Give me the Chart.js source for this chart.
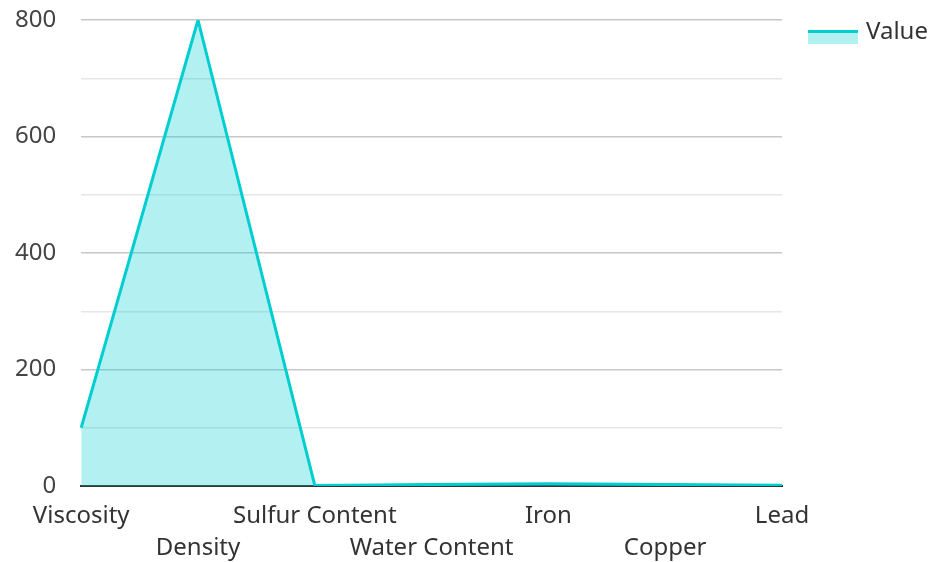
<!DOCTYPE html>
<html>
<head>
<meta charset="utf-8">
<script src="https://cdn.jsdelivr.net/npm/chart.js@4"></script>
<style>
  body { margin: 0; background: #fff; }
  #wrap { width: 932px; height: 562px; }
</style>
</head>
<body>
<div id="wrap"><canvas id="myChart"></canvas></div>
<script>
const categories = ['Viscosity', 'Density', 'Sulfur Content', 'Water Content', 'Iron', 'Copper', 'Lead'];
const values = [100, 800, 1, 2.5, 4, 2.5, 1.5];
const seriesName = 'Value';

const lineColor = '#00CED1';
const fillColor = 'rgba(0, 206, 209, 0.3)';

Chart.defaults.font.family = "'Noto Sans', 'Open Sans', sans-serif";
Chart.defaults.font.size = 24;
Chart.defaults.color = '#444';

// legend drawn by hand: light swatch with a thick line on top, text to the right
const sideLegend = {
  id: 'sideLegend',
  afterDraw(chart) {
    const ctx = chart.ctx;
    const x = chart.chartArea.right + 26;
    const y = chart.chartArea.top + 10;
    ctx.save();
    ctx.fillStyle = fillColor;
    ctx.fillRect(x, y, 50, 14);
    ctx.strokeStyle = lineColor;
    ctx.lineWidth = 3;
    ctx.beginPath();
    ctx.moveTo(x, y + 1.5);
    ctx.lineTo(x + 50, y + 1.5);
    ctx.stroke();
    ctx.fillStyle = '#333';
    ctx.font = "24px 'Noto Sans', 'Open Sans', sans-serif";
    ctx.textBaseline = 'middle';
    ctx.fillText(seriesName, x + 58, y + 2);
    ctx.restore();
  }
};

let myChart = document.getElementById('myChart').getContext('2d');

const data = {
  labels: categories,
  datasets: [{
    label: seriesName,
    data: values,
    borderColor: lineColor,
    backgroundColor: fillColor,
    borderWidth: 3,
    fill: 'origin',
    tension: 0,
    pointRadius: 0,
    pointHoverRadius: 0
  }]
};

const config = {
  type: 'line',
  data: data,
  plugins: [sideLegend],
  options: {
    responsive: true,
    maintainAspectRatio: false,
    animation: false,
    layout: { padding: { top: 20, right: 150, left: -10, bottom: -16 } },
    plugins: {
      tooltip: { enabled: false },
      legend: { display: false }
    },
    scales: {
      x: {
        offset: false,
        grid: { display: false, drawTicks: false },
        border: { display: true, color: '#333', width: 2 },
        ticks: {
          autoSkip: false,
          maxRotation: 0,
          minRotation: 0,
          padding: 14,
          color: '#333',
          font: { lineHeight: 1.333 },
          callback(v, i) {
            return i % 2 === 0 ? categories[i] : ['', categories[i]];
          }
        }
      },
      y: {
        min: 0,
        max: 800,
        border: { display: false },
        afterFit(scale) { scale.paddingTop = 0; },
        grid: {
          drawTicks: false,
          color: ctx => (ctx.tick && ctx.tick.value % 200 === 0) ? '#c8c8c8' : '#e6e6e6',
          lineWidth: 1.5
        },
        ticks: {
          stepSize: 100,
          padding: 25,
          color: '#444',
          callback: v => (v % 200 === 0 ? v : '')
        }
      }
    }
  }
};

let lineChart = new Chart(myChart, config);
</script>
</body>
</html>
